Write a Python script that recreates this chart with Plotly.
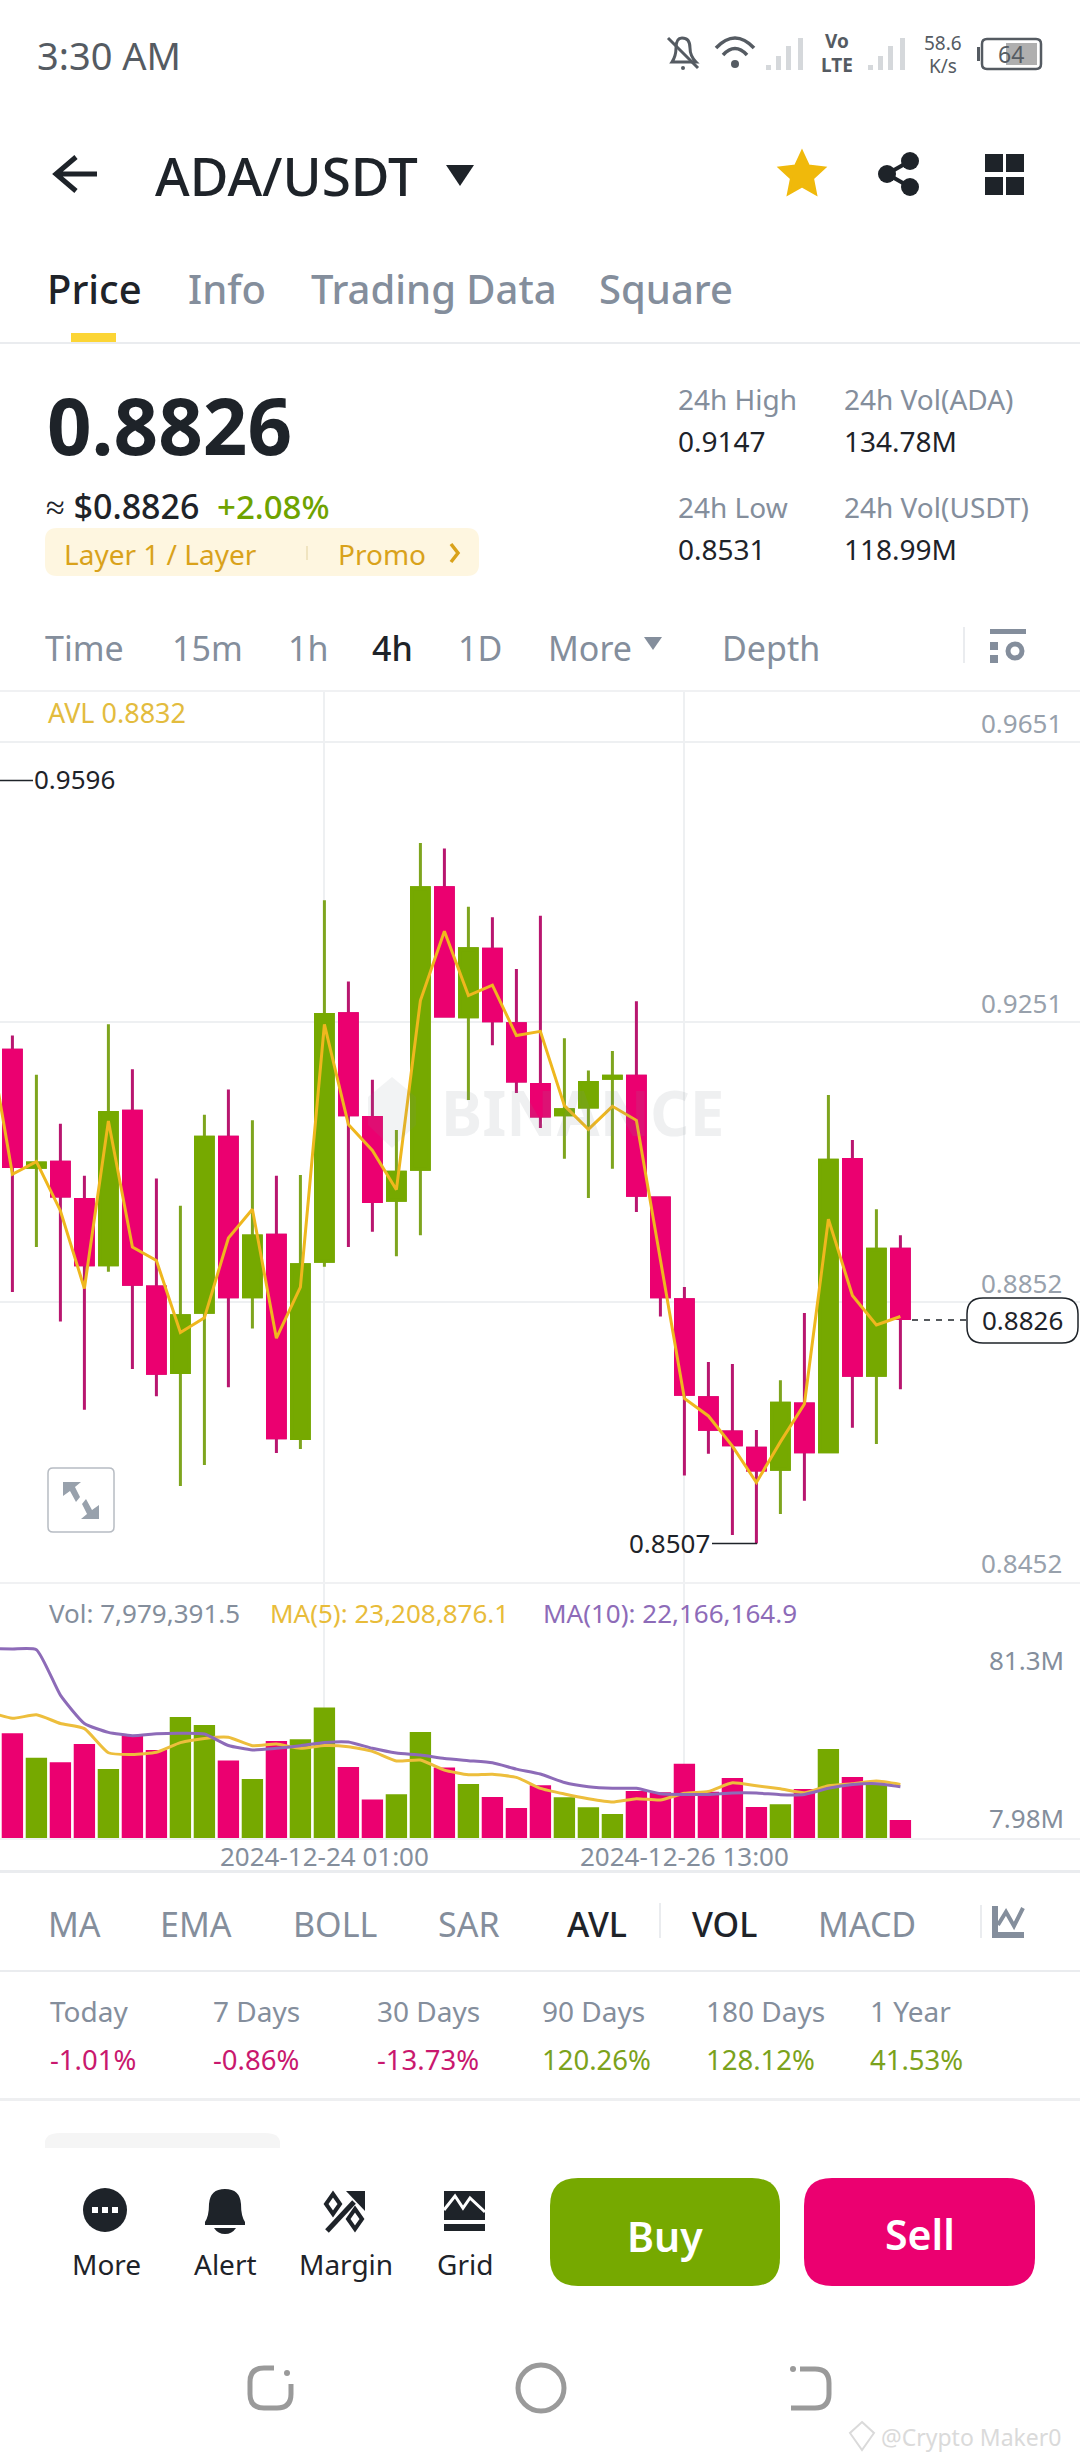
import re
import math
import pandas as pd
import plotly.graph_objects as go

# ================= data =================
dates = pd.date_range("2024-12-21 21:00", periods=38, freq="4h")
date_avl0 = pd.Timestamp("2024-12-21 17:00")

opens = [0.9213, 0.9042, 0.9053, 0.9000, 0.8903, 0.9126, 0.8875, 0.8749, 0.8835, 0.9089,
         0.8857, 0.8949, 0.8655, 0.8908, 0.9265, 0.9117, 0.8995, 0.9039, 0.9445, 0.9257,
         0.9357, 0.9251, 0.9164, 0.9117, 0.9128, 0.9169, 0.9176, 0.9002, 0.8857, 0.8717,
         0.8668, 0.8645, 0.8611, 0.8708, 0.8636, 0.9057, 0.8745, 0.8929]
highs = [0.9232, 0.9176, 0.9106, 0.9032, 0.9248, 0.9184, 0.9028, 0.8989, 0.9119, 0.9155,
         0.9111, 0.9032, 0.9033, 0.9425, 0.9309, 0.9169, 0.9097, 0.9507, 0.9499, 0.9416,
         0.9401, 0.9327, 0.9403, 0.9228, 0.9182, 0.9210, 0.9281, 0.9002, 0.8873, 0.8766,
         0.8763, 0.8669, 0.8740, 0.8836, 0.9147, 0.9083, 0.8984, 0.8947]
lows = [0.8866, 0.8930, 0.8824, 0.8698, 0.8895, 0.8756, 0.8717, 0.8589, 0.8619, 0.8730,
        0.8814, 0.8636, 0.8642, 0.8902, 0.8930, 0.8952, 0.8917, 0.8947, 0.9258, 0.9140,
        0.9218, 0.9150, 0.9100, 0.9056, 0.9000, 0.9042, 0.8980, 0.8831, 0.8604, 0.8635,
        0.8519, 0.8507, 0.8549, 0.8568, 0.8636, 0.8672, 0.8649, 0.8727]
closes = [0.9043, 0.9052, 0.9001, 0.8903, 0.9124, 0.8875, 0.8748, 0.8834, 0.9089, 0.8857,
          0.8948, 0.8656, 0.8907, 0.9264, 0.9117, 0.8993, 0.9039, 0.9445, 0.9258, 0.9358,
          0.9251, 0.9165, 0.9115, 0.9128, 0.9167, 0.9176, 0.9002, 0.8857, 0.8718, 0.8668,
          0.8646, 0.8610, 0.8709, 0.8636, 0.9056, 0.8745, 0.8929, 0.8826]
# the AVL line starts one candle left of the screen
avl = [0.9235, 0.9034, 0.9052, 0.8982, 0.8871, 0.9110, 0.8930, 0.8911, 0.8808, 0.8829, 0.8943,
       0.8984, 0.8800, 0.8873, 0.9248, 0.9105, 0.9068, 0.9012, 0.9282, 0.9381, 0.9289,
       0.9304, 0.9232, 0.9238, 0.9132, 0.9098, 0.9131, 0.9111, 0.8912, 0.8714, 0.8689,
       0.8646, 0.8594, 0.8652, 0.8706, 0.8970, 0.8861, 0.8819, 0.8831]

volumes = [44.97, 34.58, 32.59, 40.41, 29.74, 43.83, 37.85, 51.94, 48.52, 33.44,
           25.47, 41.69, 42.41, 56.07, 30.59, 16.79, 18.93, 45.54, 30.45, 23.34,
           17.79, 13.09, 22.77, 17.65, 13.38, 10.53, 20.35, 19.78, 32.02, 20.06,
           25.90, 13.52, 14.66, 21.20, 38.28, 26.33, 22.91, 7.98]
ma5 = [54.2, 51.4, 52.9, 49.2, 47.0, 36.7, 36.0, 36.9, 41.0, 42.8, 43.3, 39.7, 40.4,
       38.6, 39.8, 39.3, 37.3, 33.2, 33.6, 29.3, 27.3, 27.5, 26.2, 21.5, 19.1, 17.1,
       15.7, 17.1, 16.5, 19.4, 20.2, 23.9, 22.6, 21.3, 19.6, 22.6, 23.5, 24.6, 23.2]
ma10 = [81.1, 81.0, 80.7, 61.3, 49.2, 45.4, 44.0, 44.8, 45.0, 44.7, 39.8, 37.9, 38.6,
        39.7, 41.1, 41.3, 38.6, 36.6, 35.7, 34.2, 33.3, 32.4, 29.7, 27.6, 24.0, 22.2,
        21.5, 21.5, 19.2, 18.9, 18.9, 19.5, 19.5, 18.8, 18.9, 21.5, 23.1, 23.5, 22.2]

price_ticks = [0.9651, 0.9251, 0.8852, 0.8452]
price_labels = ["0.9651", "0.9251", "0.8852", "0.8452"]
date_ticks = ["2024-12-24 01:00", "2024-12-26 13:00"]
last_price = 0.8826
left_mark = 0.9596
low_mark = 0.8507

# ================= style =================
W, H = 1080, 2460
FONT = "Noto Sans"
PINK = "#EB0070"
PINK_WICK = "#B8166F"
GREEN = "#76A900"
GREEN_WICK = "#7EA51E"
YELLOW = "#EFB71E"
PURPLE = "#8D6BB8"
DARK = "#1E2329"
GRAY = "#848E9C"
LIGHT = "#EAECEF"
GRID = "#EEF0F2"


def fx(x):
    return x / W


def fy(y):
    return 1 - y / H


def conv(path):
    # path written in screen pixels -> paper coordinates
    toks = re.findall(r"[A-Za-z]|-?\d+\.?\d*", path)
    out, is_x = [], True
    for t in toks:
        if t.isalpha():
            out.append(t)
        else:
            out.append(f"{fx(float(t)):.5f}" if is_x else f"{fy(float(t)):.5f}")
            is_x = not is_x
    return " ".join(out)


shapes = []
annots = []


def path(d, fill=None, line=None, width=0, layer="above"):
    shapes.append(dict(type="path", xref="paper", yref="paper", path=conv(d), fillcolor=fill,
                       line=dict(color=line, width=width), layer=layer))


def rect(x0, y0, x1, y1, fill=None, line=None, width=0):
    shapes.append(dict(type="rect", xref="paper", yref="paper", x0=fx(x0), x1=fx(x1), y0=fy(y1), y1=fy(y0),
                       fillcolor=fill, line=dict(color=line, width=width)))


def circle(cx, cy, r, fill=None, line=None, width=0):
    shapes.append(dict(type="circle", xref="paper", yref="paper", x0=fx(cx - r), x1=fx(cx + r),
                       y0=fy(cy + r), y1=fy(cy - r), fillcolor=fill, line=dict(color=line, width=width)))


def round_rect(x0, y0, x1, y1, r, fill=None, line=None, width=0):
    d = (f"M {x0 + r} {y0} L {x1 - r} {y0} Q {x1} {y0} {x1} {y0 + r} L {x1} {y1 - r} Q {x1} {y1} {x1 - r} {y1} "
         f"L {x0 + r} {y1} Q {x0} {y1} {x0} {y1 - r} L {x0} {y0 + r} Q {x0} {y0} {x0 + r} {y0} Z")
    path(d, fill, line, width)


def txt(x, y, s, size, color, anchor="left", weight=400):
    annots.append(dict(xref="paper", yref="paper", x=fx(x), y=fy(y), text=s, showarrow=False,
                       xanchor=anchor, yanchor="middle", borderpad=0,
                       font=dict(family=FONT, size=size, color=color, weight=weight)))


# ================= chart traces =================
# outline of the candle adds 3px to the body, so bodies are drawn slightly inset
PAD = 0.0002
o_in = [o + PAD if c > o else o - PAD for o, c in zip(opens, closes)]
c_in = [c - PAD if c > o else c + PAD for o, c in zip(opens, closes)]

fig = go.Figure()
fig.add_trace(go.Candlestick(
    x=dates, open=o_in, high=highs, low=lows, close=c_in,
    increasing=dict(line=dict(color=GREEN_WICK, width=3), fillcolor=GREEN),
    decreasing=dict(line=dict(color=PINK_WICK, width=3), fillcolor=PINK),
    whiskerwidth=0, showlegend=False, xaxis="x", yaxis="y", name="ADA/USDT wick"))
fig.add_trace(go.Candlestick(
    x=dates, open=o_in, close=c_in,
    high=[max(a, b) for a, b in zip(o_in, c_in)], low=[min(a, b) for a, b in zip(o_in, c_in)],
    increasing=dict(line=dict(color=GREEN, width=3), fillcolor=GREEN),
    decreasing=dict(line=dict(color=PINK, width=3), fillcolor=PINK),
    whiskerwidth=0, showlegend=False, xaxis="x", yaxis="y", name="ADA/USDT"))

dates_ext = [date_avl0] + list(dates)
fig.add_trace(go.Scatter(x=dates_ext, y=avl, mode="lines", line=dict(color=YELLOW, width=3),
                         showlegend=False, xaxis="x", yaxis="y", name="AVL"))

bar_colors = [GREEN if c > o else PINK for o, c in zip(opens, closes)]
fig.add_trace(go.Bar(x=dates, y=volumes, marker=dict(color=bar_colors, line=dict(width=0)),
                     showlegend=False, xaxis="x", yaxis="y2", name="Vol"))
fig.add_trace(go.Scatter(x=dates_ext, y=ma5, mode="lines", line=dict(color="#EDBE3C", width=3, shape="spline", smoothing=0.5),
                         showlegend=False, xaxis="x", yaxis="y2", name="MA(5)"))
fig.add_trace(go.Scatter(x=dates_ext, y=ma10, mode="lines", line=dict(color=PURPLE, width=3, shape="spline", smoothing=0.5),
                         showlegend=False, xaxis="x", yaxis="y2", name="MA(10)"))

# ================= status bar + header =================
txt(36, 55, "3:30 AM", 38, "#555B62")
path("M 672 62 Q 676 56 676 48 Q 676 38 682 38 Q 690 38 690 48 Q 690 56 696 62 Z", None, "#555B62", 3)
path("M 668 38 L 698 68", None, "#555B62", 3)
circle(683, 68, 2, "#555B62")
path("M 716 48 Q 735 28 754 48", None, "#555B62", 3.5)
path("M 723 55 Q 735 42 747 55", None, "#555B62", 3.5)
circle(735, 64, 4, "#555B62")
for x, h in zip([766, 776, 786, 798], [5, 14, 24, 32]):
    rect(x, 70 - h, x + 5, 70, "#D5D8DB")
txt(837, 41, "Vo", 19, "#555B62", "center", 700)
txt(837, 65, "LTE", 19, "#555B62", "center", 700)
for x, h in zip([868, 878, 888, 900], [5, 14, 24, 32]):
    rect(x, 70 - h, x + 5, 70, "#D5D8DB")
txt(943, 43, "58.6", 19, "#555B62", "center")
txt(943, 66, "K/s", 19, "#555B62", "center")
round_rect(982, 39, 1041, 69, 5, None, "#555B62", 2.5)
rect(1006, 43, 1037, 65, "#AFAFAF")
rect(977, 47, 980, 61, "#555B62")
txt(1011, 54, "64", 23, "#555B62", "center")

path("M 97 174 L 56 174 M 76 157 L 56 174 L 76 191", None, DARK, 5)
txt(154, 176, "ADA/USDT", 53, DARK, "left", 500)
path("M 446 165 L 474 165 L 460 186 Z", DARK)
star = []
for i in range(10):
    r = 23 if i % 2 == 0 else 11
    a = -math.pi / 2 + i * math.pi / 5
    star.append(f"{802 + r * math.cos(a):.1f} {175 + r * math.sin(a):.1f}")
path("M " + " L ".join(star) + " Z", "#F0B90B", "#F0B90B", 3)
path("M 910 161 L 887 174 L 910 187", None, DARK, 4)
for cx, cy in [(887, 174), (910, 161), (910, 187)]:
    circle(cx, cy, 9, DARK)
for x0, y0 in [(985, 154), (1006, 154), (985, 177), (1006, 177)]:
    rect(x0, y0, x0 + 18, y0 + 18, DARK)

# ================= tabs =================
txt(46, 289, "Price", 40, DARK, "left", 500)
txt(187, 289, "Info", 40, GRAY, "left", 500)
txt(310, 289, "Trading Data", 40, GRAY, "left", 500)
txt(598, 289, "Square", 40, GRAY, "left", 500)
rect(71, 333, 116, 342, "#FCD535")
rect(0, 342, W, 344, LIGHT)

# ================= price header =================
txt(46, 425, "0.8826", 78, DARK, "left", 700)
txt(45, 506, "≈ $0.8826", 34, DARK, "left", 500)
txt(216, 506, "+2.08%", 33, "#6FA300", "left", 500)
round_rect(45, 528, 479, 576, 12, "#FEF6E0")
txt(63, 554, "Layer 1 / Layer", 28, "#D9A21B")
rect(306, 546, 308, 560, "#F0E4C0")
txt(337, 554, "Promo", 28, "#D9A21B")
path("M 451 544 L 458 553 L 451 562", None, "#D9A21B", 3.5)

for x, lab, val in [(677, "24h High", "0.9147"), (843, "24h Vol(ADA)", "134.78M")]:
    txt(x, 399, lab, 28, GRAY)
    txt(x, 441, val, 28, DARK)
for x, lab, val in [(677, "24h Low", "0.8531"), (843, "24h Vol(USDT)", "118.99M")]:
    txt(x, 507, lab, 28, GRAY)
    txt(x, 549, val, 28, DARK)

# ================= timeframes =================
for x, lab in [(44, "Time"), (171, "15m"), (287, "1h"), (457, "1D"), (547, "More"), (721, "Depth")]:
    txt(x, 648, lab, 34, GRAY)
txt(371, 648, "4h", 34, DARK, "left", 500)
path("M 644 637 L 662 637 L 653 650 Z", GRAY)
rect(963, 627, 965, 663, LIGHT)
rect(990, 629, 1026, 634, GRAY)
rect(990, 642, 998, 650, GRAY)
rect(990, 655, 998, 663, GRAY)
circle(1015, 651, 7, None, GRAY, 5)
rect(0, 690, W, 692, "#F0F1F3")

# ================= overlay labels on the price chart =================
txt(47, 713, "AVL 0.8832", 27, "#E3BC3E")
for v, lab in zip(price_ticks, price_labels):
    annots.append(dict(xref="paper", yref="y", x=fx(1064), y=v, yshift=19, text=lab, showarrow=False,
                       xanchor="right", yanchor="middle",
                       font=dict(family=FONT, size=26, color="#98A1AC")))
shapes.append(dict(type="line", xref="paper", yref="y", x0=0, x1=fx(33), y0=left_mark, y1=left_mark,
                   line=dict(color=DARK, width=1.5)))
annots.append(dict(xref="paper", yref="y", x=fx(32), y=left_mark, yshift=2, text=f"{left_mark:.4f}", showarrow=False,
                   xanchor="left", yanchor="middle", font=dict(family=FONT, size=26, color=DARK)))
shapes.append(dict(type="line", xref="paper", yref="y", x0=fx(712), x1=fx(757), y0=low_mark, y1=low_mark,
                   line=dict(color=DARK, width=1.5)))
annots.append(dict(xref="paper", yref="y", x=fx(712), y=low_mark, text=f"{low_mark:.4f}", showarrow=False,
                   xanchor="right", yanchor="middle", font=dict(family=FONT, size=26, color=DARK)))
shapes.append(dict(type="line", xref="paper", yref="y", x0=fx(912), x1=fx(967), y0=last_price, y1=last_price,
                   line=dict(color=DARK, width=1.5, dash="6px,6px")))
round_rect(967, 1298, 1078, 1343, 16, "#FFFFFF", DARK, 1.5)
annots.append(dict(xref="paper", yref="y", x=fx(1022.5), y=last_price, text=f"{last_price:.4f}", showarrow=False,
                   xanchor="center", yanchor="middle", font=dict(family=FONT, size=26, color=DARK)))

# watermark
txt(440, 1112, "BINANCE", 62, "rgba(130,138,148,0.13)", "left", 700)
path("M 392 1077 L 416 1097 L 416 1125 L 392 1148 L 368 1125 L 368 1097 Z", "rgba(130,138,148,0.10)")

# expand button
round_rect(48, 1468, 114, 1532, 5, "#FFFFFF", "#B7BCC3", 1.5)
path("M 63 1482 L 81 1482 L 75 1487 L 80 1497 L 76 1502 L 70 1491 L 63 1496 Z", "#98A1AC")
path("M 99 1519 L 81 1519 L 87 1514 L 82 1504 L 86 1499 L 92 1510 L 99 1505 Z", "#98A1AC")

# ================= volume header =================
rect(0, 1582, W, 1584, "#F0F1F3")
txt(48, 1613, "Vol: 7,979,391.5", 26, GRAY)
txt(269, 1613, "MA(5): 23,208,876.1", 26, "#E8BC3A")
txt(542, 1613, "MA(10): 22,166,164.9", 26, PURPLE)
txt(1065, 1660, "81.3M", 26, GRAY, "right")
txt(1065, 1818, "7.98M", 26, GRAY, "right")
rect(0, 1838, W, 1840, "#F0F1F3")
rect(0, 1870, W, 1873, LIGHT)

# ================= indicators row =================
for x, lab in [(47, "MA"), (159, "EMA"), (292, "BOLL"), (437, "SAR"), (817, "MACD")]:
    txt(x, 1924, lab, 34, GRAY)
txt(566, 1924, "AVL", 34, DARK, "left", 500)
txt(691, 1924, "VOL", 34, DARK, "left", 500)
rect(659, 1903, 661, 1938, LIGHT)
rect(980, 1905, 982, 1938, LIGHT)
path("M 992 1906 L 998 1906 L 998 1932 L 1024 1932 L 1024 1938 L 992 1938 Z", GRAY)
path("M 998 1925 L 1006 1912 L 1014 1926 L 1023 1908", None, GRAY, 4)
rect(0, 1970, W, 1972, LIGHT)

for x, lab, val, col in [(49, "Today", "-1.01%", "#C9186E"), (212, "7 Days", "-0.86%", "#C9186E"),
                         (376, "30 Days", "-13.73%", "#C9186E"), (541, "90 Days", "120.26%", "#7BA21C"),
                         (705, "180 Days", "128.12%", "#7BA21C"), (869, "1 Year", "41.53%", "#7BA21C")]:
    txt(x, 2011, lab, 28, GRAY)
    txt(x, 2059, val, 27.5, col)
rect(0, 2098, W, 2101, "#EEEFF1")
path("M 45 2148 L 45 2143 Q 45 2133 60 2133 L 265 2133 Q 280 2133 280 2143 L 280 2148 Z", "#F5F5F5")

# ================= bottom bar =================
circle(105, 2210, 22, DARK)
for x in [95, 105, 115]:
    rect(x - 3, 2207, x + 3, 2213, "#FFFFFF")
path("M 205 2222 Q 209 2216 209 2204 Q 210 2189 225 2189 Q 240 2189 241 2204 Q 241 2216 245 2222 L 245 2225 L 205 2225 Z", DARK)
path("M 214 2228 L 236 2228 Q 232 2234 225 2234 Q 218 2234 214 2228 Z", DARK)
path("M 327 2231 L 354 2202", None, DARK, 5)
path("M 346 2191 L 365 2191 L 365 2211 Z", DARK)
path("M 333 2194 L 340 2204 L 333 2214 L 326 2204 Z", None, DARK, 4)
path("M 355 2209 L 362 2219 L 355 2229 L 348 2219 Z", None, DARK, 4)
path("M 444 2191 L 485 2191 L 485 2220 L 444 2220 Z", DARK)
path("M 444 2210 L 455 2196 L 463 2208 L 470 2198 L 485 2212", None, "#FFFFFF", 3)
rect(444, 2224, 485, 2231, DARK)
for x, lab in [(106, "More"), (225, "Alert"), (346, "Margin"), (465, "Grid")]:
    txt(x, 2264, lab, 28, DARK, "center")
round_rect(550, 2178, 780, 2286, 28, GREEN)
round_rect(804, 2178, 1035, 2286, 28, PINK)
txt(665, 2236, "Buy", 41, "#FFFFFF", "center", 600)
txt(920, 2234, "Sell", 41, "#FFFFFF", "center", 600)

# nav bar
NAV = "#9A9A9A"
path("M 274 2368 L 264 2368 Q 250 2368 250 2382 L 250 2394 Q 250 2408 264 2408 L 277 2408 Q 291 2408 291 2394 L 291 2384", None, NAV, 5)
circle(287, 2373, 3, NAV)
circle(541, 2388, 23, None, NAV, 5)
path("M 800 2369 L 815 2369 Q 829 2369 829 2383 L 829 2394 Q 829 2408 815 2408 L 791 2408", None, NAV, 5)
circle(793, 2369, 3, NAV)

txt(880, 2437, "@Crypto Maker0", 23, "#DADADA")
path("M 862 2422 L 874 2433 L 862 2450 L 850 2433 Z", None, "#DADADA", 2)

# ================= layout =================
fig.update_layout(
    width=W, height=H,
    margin=dict(l=0, r=0, t=0, b=0),
    paper_bgcolor="#FFFFFF", plot_bgcolor="#FFFFFF",
    showlegend=False,
    hovermode=False,
    boxmode="overlay", boxgap=0.26, boxgroupgap=0,
    bargap=0.11,
    xaxis=dict(
        domain=[0, 1], anchor="y2", type="date",
        range=["2024-12-21 18:56", "2024-12-29 06:56"],
        tickmode="array", tickvals=date_ticks, ticktext=date_ticks,
        showgrid=True, gridcolor=GRID, gridwidth=1.5, zeroline=False, showline=False,
        ticks="", rangeslider=dict(visible=False),
        tickfont=dict(family=FONT, size=26, color=GRAY),
    ),
    yaxis=dict(
        domain=[fy(1582), fy(691)], range=[0.8452, 0.97238], anchor="x",
        tickmode="array", tickvals=price_ticks, showticklabels=False, ticks="",
        showgrid=True, gridcolor=GRID, gridwidth=1.5, zeroline=False, showline=False,
    ),
    yaxis2=dict(
        domain=[fy(1838.7), fy(1582)], range=[0, 109.6], anchor="x",
        showticklabels=False, showgrid=False, zeroline=False, showline=False, ticks="",
    ),
    shapes=shapes,
    annotations=annots,
)

fig.write_html("out.html", config={"displayModeBar": False},
               post_script="document.body.style.margin='0';")
